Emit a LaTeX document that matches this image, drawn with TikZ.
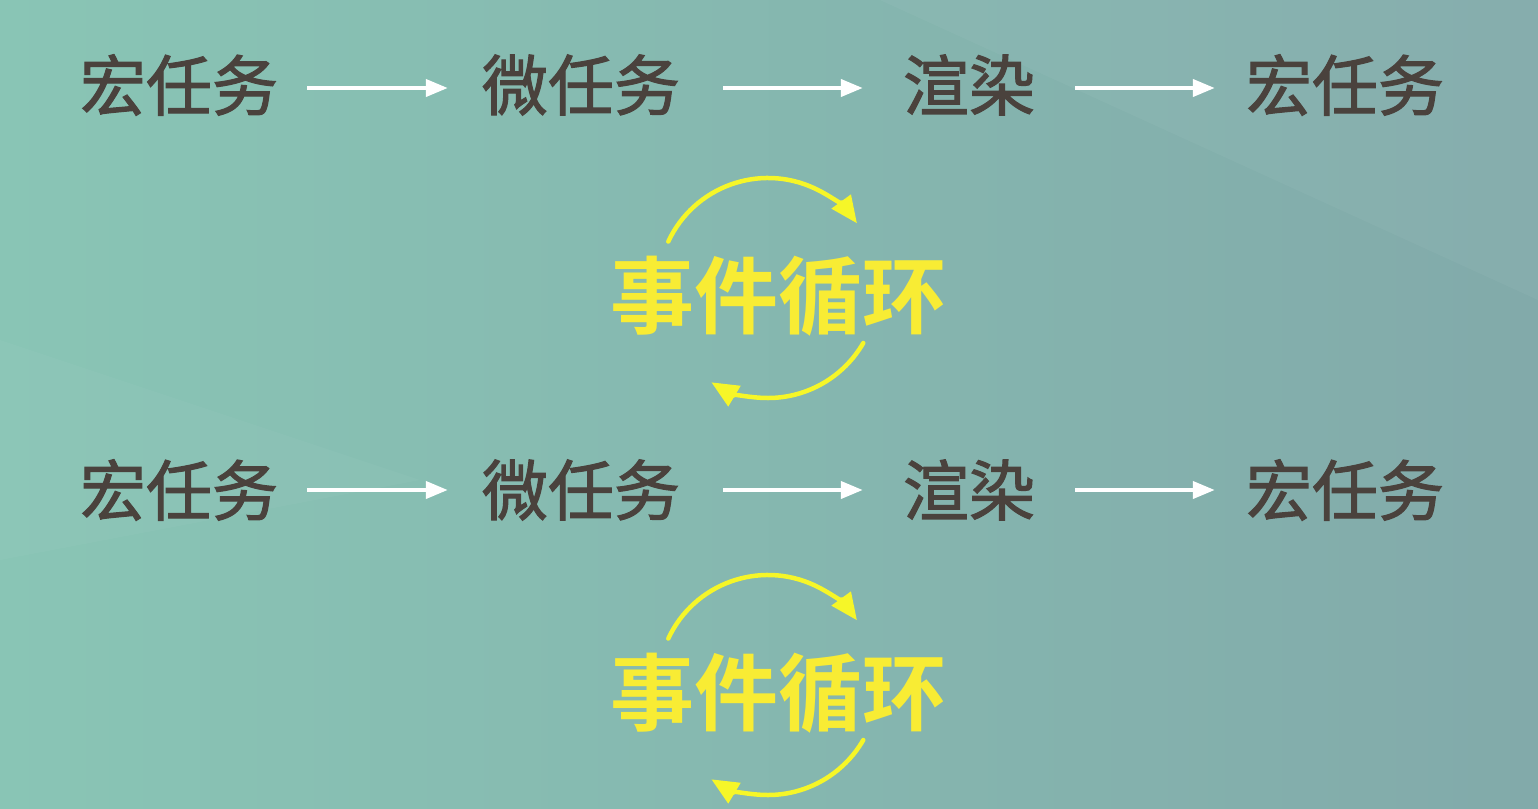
\documentclass[tikz,border=0pt]{standalone}
\usepackage{fontspec}
\setmainfont{Noto Sans CJK SC}
\newfontfamily\cjkmed[FakeBold=1.6]{Noto Sans CJK SC}
\newfontfamily\cjkbold{Noto Sans CJK SC Bold}
\usetikzlibrary{arrows.meta}
\definecolor{bgL}{RGB}{137,197,181}
\definecolor{bgR}{RGB}{130,170,170}
\definecolor{darktxt}{RGB}{74,66,61}
\definecolor{ytxt}{RGB}{248,236,52}
\definecolor{yarc}{RGB}{246,246,40}
\tikzset{
  task/.style={inner sep=0pt, text=darktxt, font=\cjkmed\fontsize{66pt}{66pt}\selectfont},
  loop/.style={inner sep=0pt, text=ytxt, font=\cjkbold\fontsize{84pt}{84pt}\selectfont},
  flow/.style={draw=white, line width=4pt, -{Triangle[length=22pt,width=17pt]}},
  cyc/.style={draw=yarc, line width=4.5pt, line cap=round, -{Triangle[length=27pt,width=23pt]}}
}
\begin{document}
\begin{tikzpicture}[x=1pt,y=-1pt]
\shade[left color=bgL, right color=bgR] (0,0) rectangle (1538,808);
\useasboundingbox (0,0) rectangle (1538,808);
\fill[white,opacity=0.04] (0,0) -- (880,0) -- (1538,300) -- (1538,0) -- cycle;
\fill[white,opacity=0.03] (0,340) -- (420,480) -- (0,560) -- cycle;
% row 1
\node[task] (a1) at (179,85) {宏任务};
\node[task] (b1) at (581,85) {微任务};
\node[task] (c1) at (969,85) {渲染};
\node[task] (d1) at (1345,85) {宏任务};
\draw[flow, shorten <=29pt, shorten >=34pt] ([yshift=-3pt]a1.east) -- ([yshift=-3pt]b1.west);
\draw[flow, shorten <=43pt, shorten >=40pt] ([yshift=-3pt]b1.east) -- ([yshift=-3pt]c1.west);
\draw[flow, shorten <=40pt, shorten >=31pt] ([yshift=-3pt]c1.east) -- ([yshift=-3pt]d1.west);
\node[loop] (e1) at (778,296) {事件循环};
\coordinate (o1) at (768,288);
\draw[cyc] (o1) ++(155:110pt) arc[start angle=155, end angle=36, radius=110pt];
\draw[cyc] (o1) ++(-30:110pt) arc[start angle=-30, end angle=-121, radius=110pt];
% row 2
\node[task] (a2) at (179,490) {宏任务};
\node[task] (b2) at (581,490) {微任务};
\node[task] (c2) at (969,490) {渲染};
\node[task] (d2) at (1345,490) {宏任务};
\draw[flow, shorten <=29pt, shorten >=34pt] (a2) -- (b2);
\draw[flow, shorten <=43pt, shorten >=40pt] (b2) -- (c2);
\draw[flow, shorten <=40pt, shorten >=31pt] (c2) -- (d2);
\node[loop] (e2) at (778,693) {事件循环};
\coordinate (o2) at (768,685);
\draw[cyc] (o2) ++(155:110pt) arc[start angle=155, end angle=36, radius=110pt];
\draw[cyc] (o2) ++(-30:110pt) arc[start angle=-30, end angle=-121, radius=110pt];
\end{tikzpicture}
\end{document}
